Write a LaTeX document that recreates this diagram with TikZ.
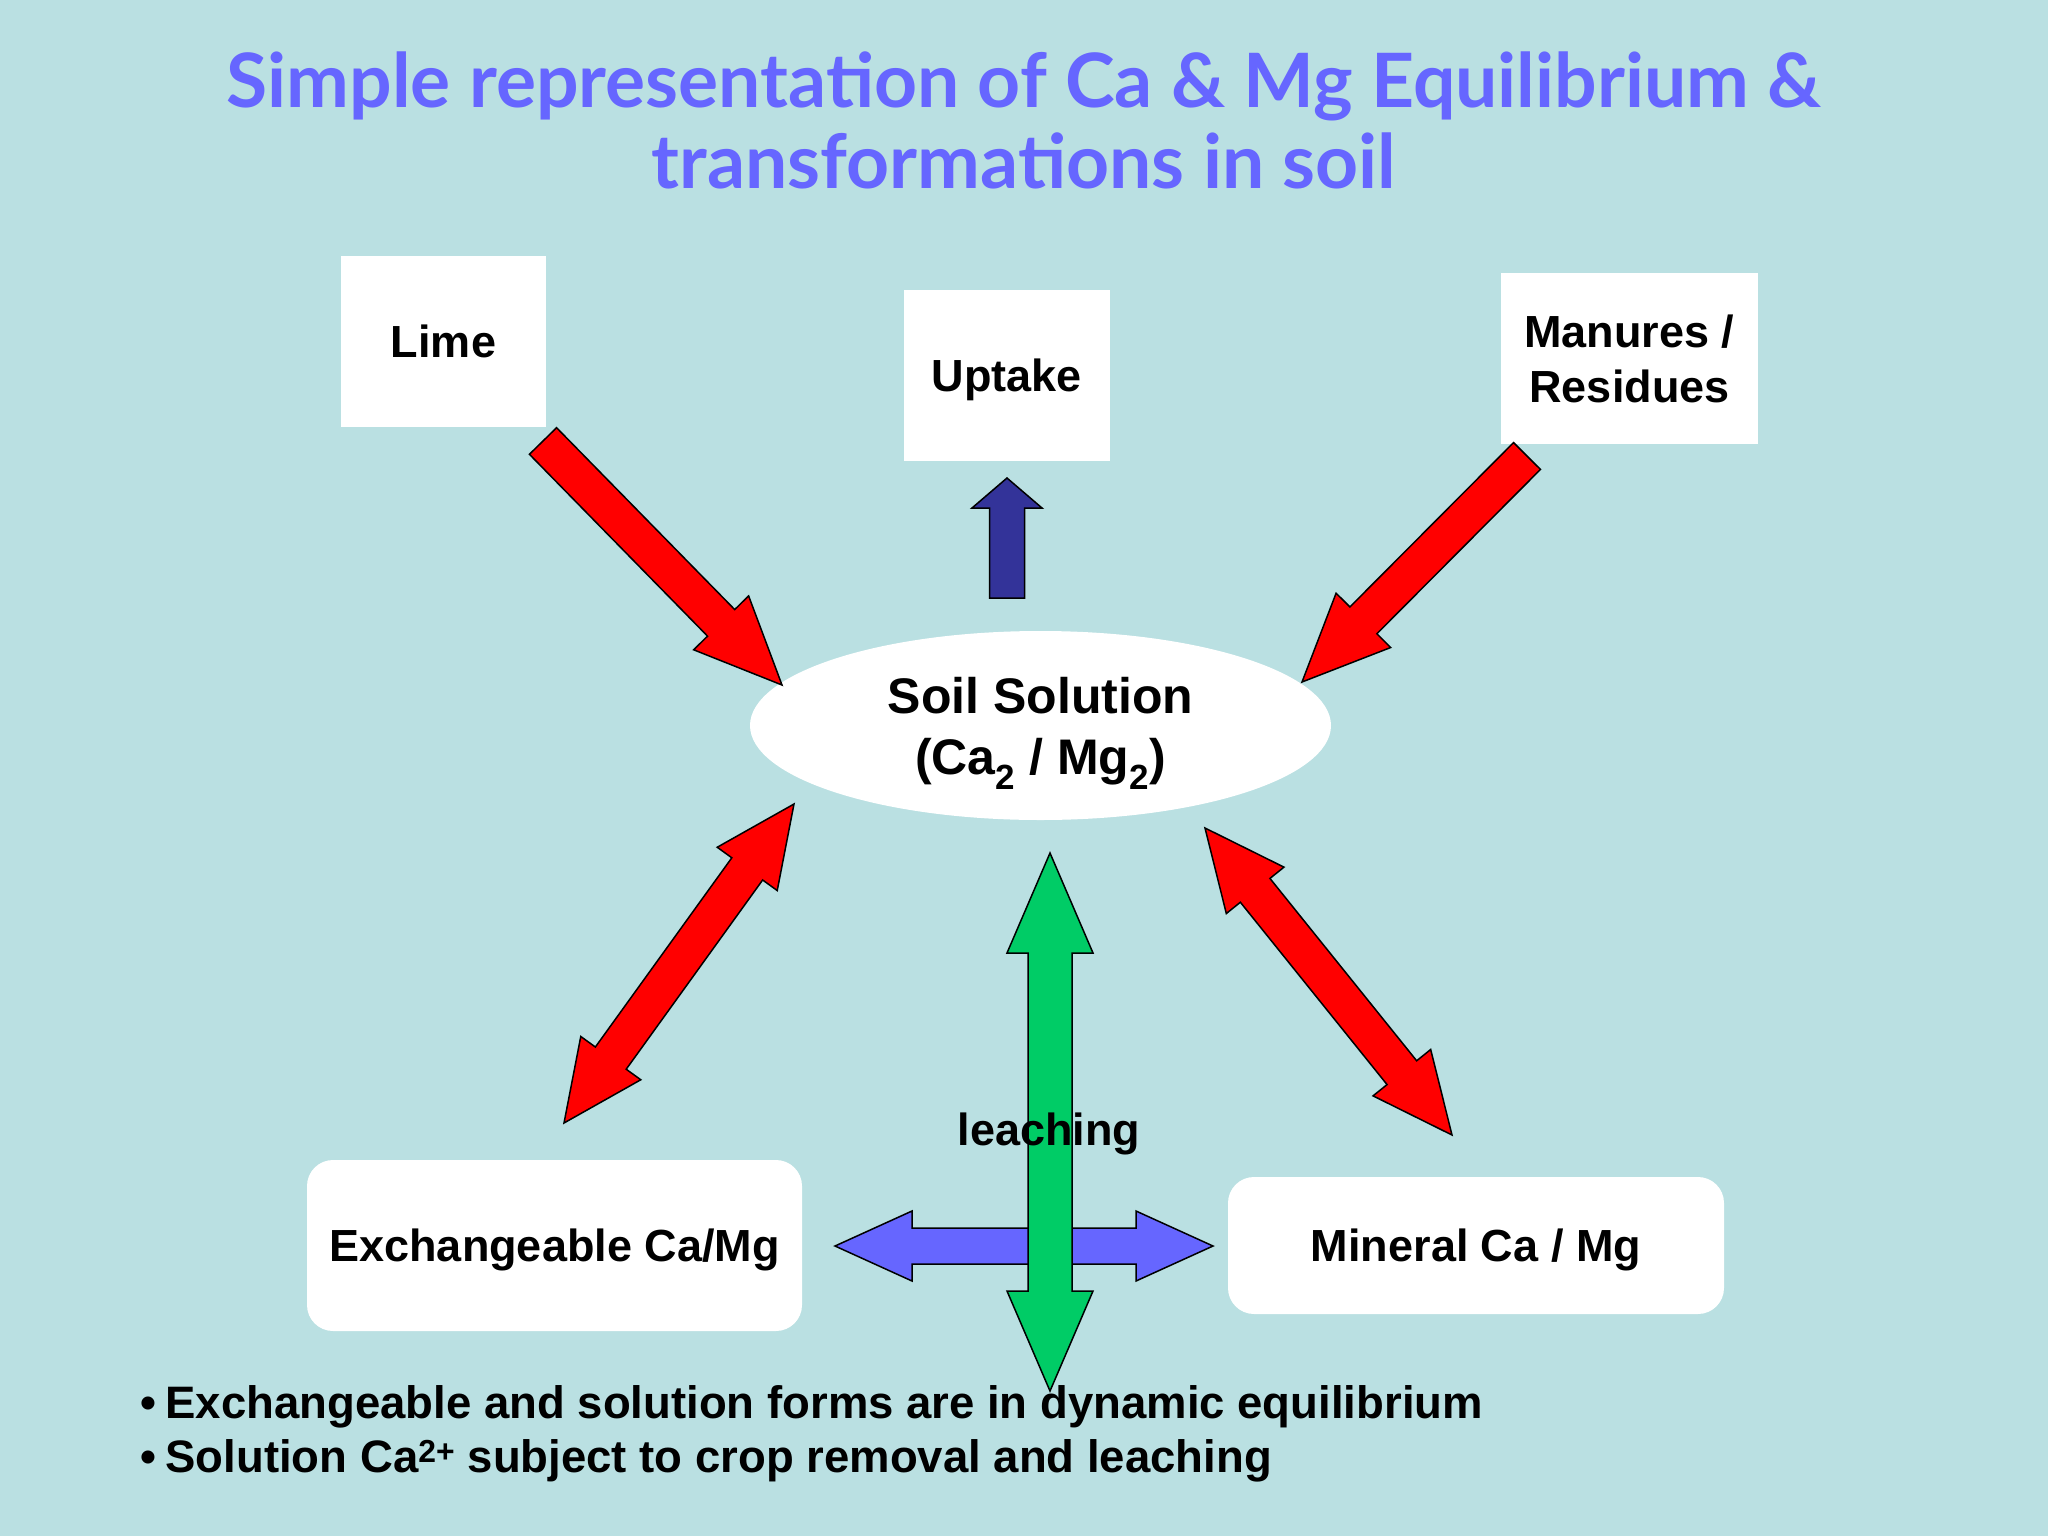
\documentclass[tikz,border=0pt]{standalone}
\usepackage{fontspec}
\setmainfont{Liberation Sans}
\newfontfamily\titlefont{Lato}
\usetikzlibrary{calc,shapes.geometric}
\definecolor{bg}{RGB}{186,224,226}
\definecolor{titleblue}{RGB}{102,102,255}
\definecolor{navyc}{RGB}{51,51,153}
\definecolor{grn}{RGB}{0,204,102}
\definecolor{violetc}{RGB}{102,102,255}
\newcommand\singleblockarrow[6]{%
  \coordinate (sbaC) at ($(#3)!#6!(#2)$);
  \path[#1] ($(#2)!#4!90:(#3)$) -- ($(sbaC)!#4!90:(#3)$) -- ($(sbaC)!#5!90:(#3)$) -- (#3)
    -- ($(sbaC)!#5!-90:(#3)$) -- ($(sbaC)!#4!-90:(#3)$) -- ($(#2)!#4!-90:(#3)$) -- cycle;}
\newcommand\doubleblockarrow[6]{%
  \coordinate (dbaA) at ($(#2)!#6!(#3)$);
  \coordinate (dbaB) at ($(#3)!#6!(#2)$);
  \path[#1] (#2) -- ($(dbaA)!#5!90:(#3)$) -- ($(dbaA)!#4!90:(#3)$) -- ($(dbaB)!#4!90:(#3)$)
    -- ($(dbaB)!#5!90:(#3)$) -- (#3) -- ($(dbaB)!#5!-90:(#3)$) -- ($(dbaB)!#4!-90:(#3)$)
    -- ($(dbaA)!#4!-90:(#3)$) -- ($(dbaA)!#5!-90:(#3)$) -- cycle;}
\tikzset{
  box/.style={fill=white, inner sep=0pt, align=center, font=\bfseries\fontsize{45}{55}\selectfont,
    text height=32pt, text depth=0pt},
  rbox/.style={box, rounded corners=26pt},
  redarrow/.style={fill=red, draw=black, line width=1.5pt, line join=miter},
  navyarrow/.style={fill=navyc, draw=black, line width=1.5pt},
  grnarrow/.style={fill=grn, draw=black, line width=1.5pt},
  violetarrow/.style={fill=violetc, draw=black, line width=1.5pt},
  lbl/.style={inner sep=0pt, font=\bfseries\fontsize{45}{55}\selectfont, text height=32pt, text depth=0pt},
  bullet/.style={inner sep=0pt, font=\bfseries\fontsize{45.5}{55}\selectfont, anchor=base west},
}
\begin{document}
\begin{tikzpicture}[x=1pt,y=-1pt]
\useasboundingbox (0,0) rectangle (2048,1536);
\fill[bg] (0,0) rectangle (2048,1536);
% title
\node[titleblue, align=center, font=\titlefont\bfseries\fontsize{75}{81}\selectfont] (title) at (1024,120)
  {Simple representation of Ca \& Mg Equilibrium \&\\transformations in soil};
% boxes
\node[box, minimum width=205pt, minimum height=171pt] (lime) at (443.5,341.5) {Lime};
\node[box, minimum width=206pt, minimum height=171pt] (uptake) at (1007,375.5) {Uptake};
\node[box, minimum width=257pt, minimum height=171pt, text height=87pt] (manures) at (1629.5,358.5) {Manures /\\Residues};
\node[ellipse, fill=white, inner sep=0pt, minimum width=581pt, minimum height=189pt,
  align=center, font=\bfseries\fontsize{50}{61}\selectfont, text height=97pt, text depth=0pt] (soil) at (1040.5,725.5)
  {Soil Solution\\(Ca\textsubscript{2} / Mg\textsubscript{2})};
\node[rbox, minimum width=495pt, minimum height=171pt] (exch) at (554.5,1245.5) {Exchangeable Ca/Mg};
\node[rbox, minimum width=496pt, minimum height=137pt] (mineral) at (1476,1245.5) {Mineral Ca / Mg};
% arrow end points
\coordinate (limeT) at (543,441);
\coordinate (limeH) at (782,685);
\coordinate (manT) at (1527,456);
\coordinate (manH) at (1302,682);
\coordinate (upT) at (1007,598);
\coordinate (upH) at (1007,478);
\coordinate (exA) at (794,804);
\coordinate (exB) at (564,1123);
\coordinate (miA) at (1205,828);
\coordinate (miB) at (1452,1135);
\coordinate (leA) at (1050,853);
\coordinate (leB) at (1050,1391);
\coordinate (hoA) at (835,1246);
\coordinate (hoB) at (1213,1246);
% arrows
\singleblockarrow{redarrow}{limeT}{limeH}{19pt}{38.5pt}{87pt}
\singleblockarrow{redarrow}{manT}{manH}{19pt}{38.5pt}{87pt}
\singleblockarrow{navyarrow}{upT}{upH}{17.5pt}{35pt}{30pt}
\doubleblockarrow{redarrow}{exA}{exB}{19pt}{37pt}{80pt}
\doubleblockarrow{redarrow}{miA}{miB}{19pt}{37pt}{80pt}
\doubleblockarrow{violetarrow}{hoA}{hoB}{18pt}{35pt}{77pt}
\doubleblockarrow{grnarrow}{leA}{leB}{22pt}{43pt}{100pt}
% labels
\node[lbl] (leach) at (1049,1129) {leaching};
\node[bullet] (b1) at (140,1418) {\textbullet\hspace{9.5pt}Exchangeable and solution forms are in dynamic equilibrium};
\node[bullet] (b2) at (140,1472) {\textbullet\hspace{9.5pt}Solution Ca\textsuperscript{2+} subject to crop removal and leaching};
\end{tikzpicture}
\end{document}
